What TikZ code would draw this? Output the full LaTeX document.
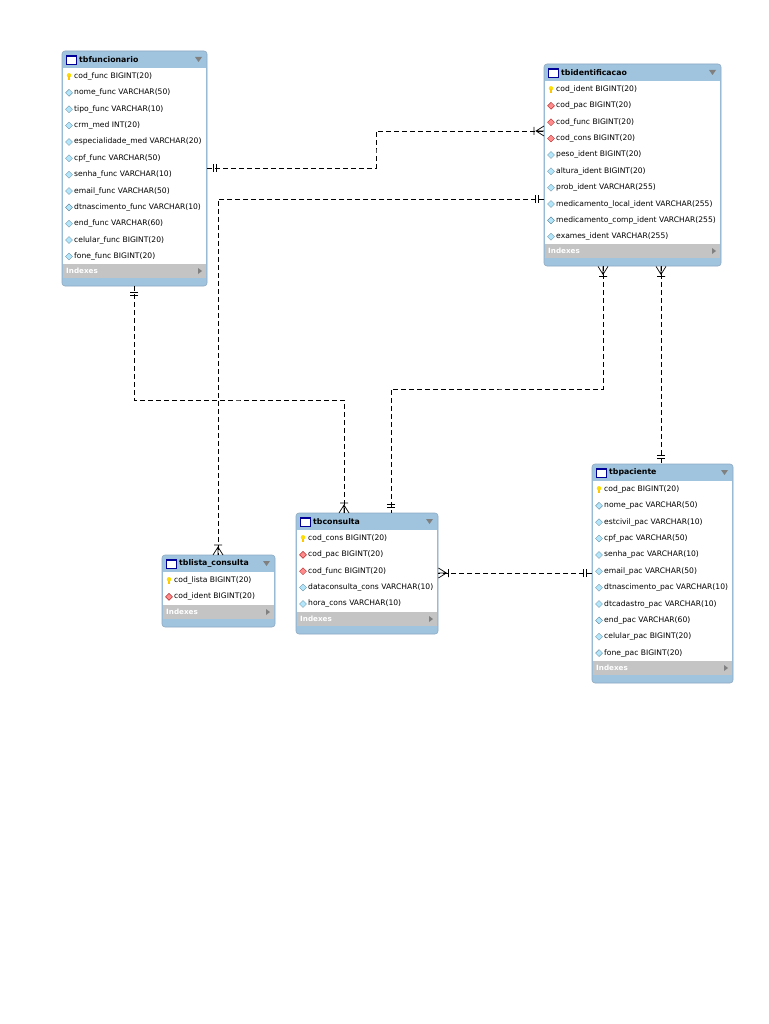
\documentclass[tikz,border=0pt]{standalone}
\usepackage{fontspec}
\setmainfont{DejaVu Sans}
\begin{document}
\begin{tikzpicture}[x=1pt,y=-1pt,font=\fontsize{7.6}{8}\selectfont]
\definecolor{hdrc}{RGB}{160,196,222}
\definecolor{bordc}{RGB}{140,170,195}
\definecolor{idxc}{RGB}{196,196,196}
\tikzset{
 rel/.style={draw=black,dash pattern=on 5pt off 3pt,line width=0.7pt},
 mk/.style={draw=black,line width=0.7pt},
 rowtext/.style={anchor=west,inner sep=0pt},
 pkey/.pic={\fill[yellow!80!orange] (0,-1.2) circle (2.2pt); \fill[yellow!60!orange] (-0.8,0) rectangle (0.8,3.5);},
 fkey/.pic={\fill[red!45!white,draw=red!60!black,line width=0.2pt] (-3.5,0)--(0,-3.5)--(3.5,0)--(0,3.5)--cycle;},
 attr/.pic={\fill[cyan!30!white,draw=cyan!50!black,line width=0.2pt] (-3.5,0)--(0,-3.5)--(3.5,0)--(0,3.5)--cycle;},
 onemark/.pic={\draw[mk] (6,-4)--(6,4) (9,-4)--(9,4);},
 manymark/.pic={\draw[mk] (0,-5)--(8,0)--(0,5) (0,0)--(8,0) (10,-4)--(10,4);}
}
\newcommand\ertable[7]{%
\node[minimum width=#5,minimum height=#6,anchor=north west,inner sep=0pt] (#1) at (#3,#4) {};
\begin{scope}[shift={(#3,#4)}]
 \fill[hdrc,rounded corners=3pt] (0,0) rectangle (#5,#6);
 \fill[white] (1,17) rectangle (#5-1,#6-22);
 \fill[idxc] (1,#6-22) rectangle (#5-1,#6-8);
 \node[rowtext,text=white,font=\fontsize{7.2}{8}\selectfont\bfseries] at (4,#6-15) {Indexes};
 \fill[gray] (#5-9,#6-18)--(#5-5,#6-15)--(#5-9,#6-12)--cycle;
 \fill[white,draw=blue!60!black,line width=0.4pt] (4,4) rectangle (14,13);
 \fill[blue!60!black] (4,4) rectangle (14,6);
 \node[rowtext,font=\fontsize{7.8}{9}\selectfont\bfseries] at (17,8.5) {#2};
 \fill[gray] (#5-12,6)--(#5-5,6)--(#5-8.5,11)--cycle;
 \foreach \k/\t [count=\i] in {#7} {
   \pgfmathsetmacro\yy{25.5+(\i-1)*16.36}
   \pic at (7,\yy) {\k};
   \node[rowtext] at (12,\yy) {\t};
 }
 \draw[bordc,line width=0.6pt,rounded corners=3pt] (0,0) rectangle (#5,#6);
\end{scope}}
\fill[white] (0,0) rectangle (768,1024);
\useasboundingbox (0,0) rectangle (768,1024);

\ertable{func}{tbfuncionario}{62}{51}{145}{235}{pkey/cod\_func BIGINT(20),attr/nome\_func VARCHAR(50),attr/tipo\_func VARCHAR(10),attr/crm\_med INT(20),attr/especialidade\_med VARCHAR(20),attr/cpf\_func VARCHAR(50),attr/senha\_func VARCHAR(10),attr/email\_func VARCHAR(50),attr/dtnascimento\_func VARCHAR(10),attr/end\_func VARCHAR(60),attr/celular\_func BIGINT(20),attr/fone\_func BIGINT(20)}

\ertable{ident}{tbidentificacao}{544}{64}{177}{202}{pkey/cod\_ident BIGINT(20),fkey/cod\_pac BIGINT(20),fkey/cod\_func BIGINT(20),fkey/cod\_cons BIGINT(20),attr/peso\_ident BIGINT(20),attr/altura\_ident BIGINT(20),attr/prob\_ident VARCHAR(255),attr/medicamento\_local\_ident VARCHAR(255),attr/medicamento\_comp\_ident VARCHAR(255),attr/exames\_ident VARCHAR(255)}

\ertable{cons}{tbconsulta}{296}{513}{142}{121}{pkey/cod\_cons BIGINT(20),fkey/cod\_pac BIGINT(20),fkey/cod\_func BIGINT(20),attr/dataconsulta\_cons VARCHAR(10),attr/hora\_cons VARCHAR(10)}

\ertable{lista}{tblista\_consulta}{162}{555}{113}{72}{pkey/cod\_lista BIGINT(20),fkey/cod\_ident BIGINT(20)}

\ertable{pac}{tbpaciente}{592}{464}{141}{219}{pkey/cod\_pac BIGINT(20),attr/nome\_pac VARCHAR(50),attr/estcivil\_pac VARCHAR(10),attr/cpf\_pac VARCHAR(50),attr/senha\_pac VARCHAR(10),attr/email\_pac VARCHAR(50),attr/dtnascimento\_pac VARCHAR(10),attr/dtcadastro\_pac VARCHAR(10),attr/end\_pac VARCHAR(60),attr/celular\_pac BIGINT(20),attr/fone\_pac BIGINT(20)}

% connectors
\coordinate (a1) at (func.north east |- 0,168);
\coordinate (a2) at (ident.north west |- 0,131);
\draw[rel] (a1) -| (376,150) |- (a2);
\pic at (a1) {onemark}; \pic[rotate=180] at (a2) {manymark};

\coordinate (b1) at (ident.north west |- 0,199);
\coordinate (b2) at (218,0 |- lista.north);
\draw[rel] (b1) -| (b2);
\pic[rotate=180] at (b1) {onemark}; \pic[rotate=90] at (b2) {manymark};

\coordinate (c1) at (134,0 |- func.south);
\coordinate (c2) at (344,0 |- cons.north);
\draw[rel] (c1) |- (240,400) -| (c2);
\pic[rotate=-90] at (c1) {onemark}; \pic[rotate=90] at (c2) {manymark};

\coordinate (d1) at (603,0 |- ident.south);
\coordinate (d2) at (391,0 |- cons.north);
\draw[rel] (d1) |- (500,389) -| (d2);
\pic[rotate=-90] at (d1) {manymark}; \pic[rotate=90] at (d2) {onemark};

\coordinate (e1) at (661,0 |- ident.south);
\coordinate (e2) at (661,0 |- pac.north);
\draw[rel] (e1) -- (e2);
\pic[rotate=-90] at (e1) {manymark}; \pic[rotate=90] at (e2) {onemark};

\coordinate (f1) at (pac.north west |- 0,573);
\coordinate (f2) at (cons.north east |- 0,573);
\draw[rel] (f1) -- (f2);
\pic[rotate=180] at (f1) {onemark}; \pic at (f2) {manymark};
\end{tikzpicture}
\end{document}
